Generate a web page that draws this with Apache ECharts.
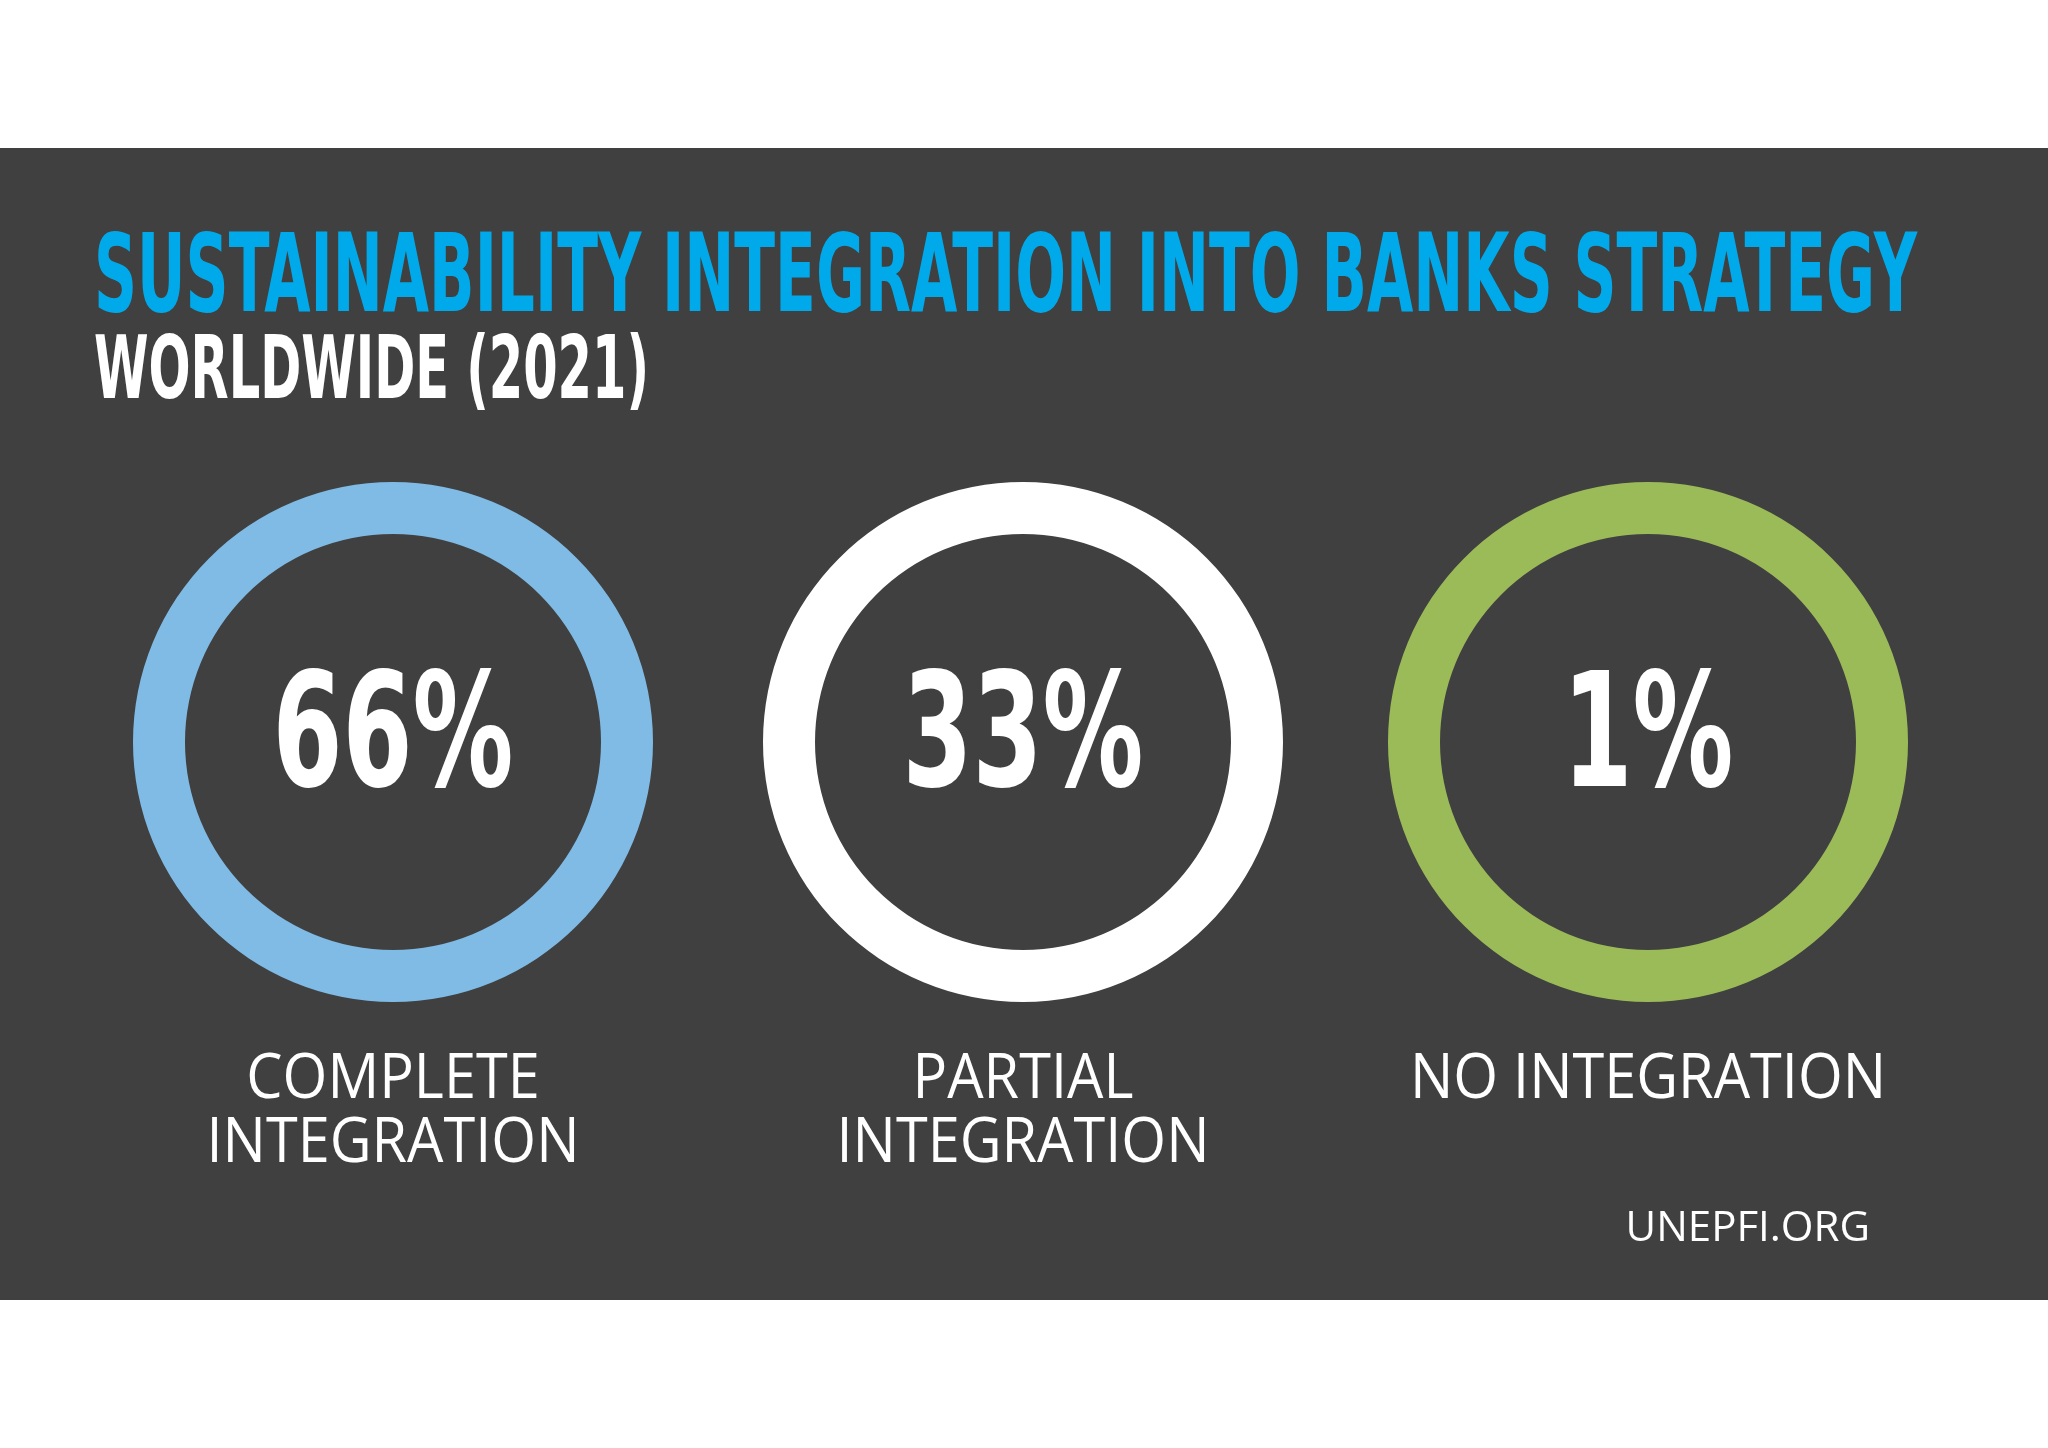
<!DOCTYPE html>
<html>
<head>
<meta charset="utf-8">
<script src="https://cdn.jsdelivr.net/npm/echarts@6/dist/echarts.min.js"></script>
<style>
  html, body { margin: 0; padding: 0; background: #fff; }
  #chart { width: 2048px; height: 1448px; }
</style>
</head>
<body>
<div id="chart"></div>
<script>
// data
var categories = ['COMPLETE\nINTEGRATION', 'PARTIAL\nINTEGRATION', 'NO INTEGRATION'];
var values = [66, 33, 1];
var ringColors = ['#7fbbe5', '#ffffff', '#9bbb59'];
var titleText = 'SUSTAINABILITY INTEGRATION INTO BANKS STRATEGY';
var subtitleText = 'WORLDWIDE (2021)';
var sourceText = 'UNEPFI.ORG';

var centersX = [393, 1023, 1648];
var centerY = 742;
var condensed = "'Liberation Sans Narrow', 'DejaVu Sans Condensed', 'Liberation Sans', sans-serif";
var plain = "'Open Sans', 'Noto Sans', sans-serif";

// measure text so condensed lettering can be squeezed to the right width
var ctx = document.createElement('canvas').getContext('2d');
function fitScale(text, weight, size, family, width) {
	ctx.font = weight + ' ' + size + 'px ' + family;
	return width / ctx.measureText(text).width;
}

var chart = echarts.init(document.getElementById('chart'));

var series = [];
var graphics = [
	{ type: 'rect', z: 0, shape: { x: 0, y: 148, width: 2048, height: 1152 }, style: { fill: '#404040' } }
];

var titleScale = fitScale(titleText, 'bold', 108, condensed, 1823);
graphics.push({
	type: 'text', z: 10, x: 94, y: 283, scaleX: titleScale,
	style: { text: titleText, fill: '#00aaea', font: 'bold 108px ' + condensed, align: 'left', verticalAlign: 'middle' }
});
var subScale = fitScale(subtitleText, 'bold', 88, condensed, 555);
graphics.push({
	type: 'text', z: 10, x: 94, y: 375, scaleX: subScale,
	style: { text: subtitleText, fill: '#ffffff', font: 'bold 88px ' + condensed, align: 'left', verticalAlign: 'middle' }
});

var pctScale = fitScale('66%', 'bold', 159, condensed, 241);
var labelScale = fitScale('INTEGRATION', 'normal', 62, plain, 373);

values.forEach(function (v, i) {
	series.push({
		type: 'pie',
		silent: true,
		center: [centersX[i], centerY],
		radius: [208, 260],
		startAngle: 90,
		label: { show: false },
		labelLine: { show: false },
		emphasis: { disabled: true },
		itemStyle: { color: ringColors[i] },
		data: [{ name: categories[i], value: v }]
	});
	graphics.push({
		type: 'text', z: 10, x: centersX[i], y: 745, scaleX: pctScale,
		style: { text: v + '%', fill: '#ffffff', font: 'bold 159px ' + condensed, align: 'center', verticalAlign: 'middle' }
	});
	graphics.push({
		type: 'text', z: 10, x: centersX[i], y: 1048, scaleX: labelScale,
		style: { text: categories[i], fill: '#ffffff', font: 'normal 62px ' + plain, align: 'center', verticalAlign: 'top', lineHeight: 64 }
	});
});

graphics.push({
	type: 'text', z: 10, x: 1870, y: 1229,
	style: { text: sourceText, fill: '#ffffff', font: 'normal 42px ' + plain, align: 'right', verticalAlign: 'middle' }
});

chart.setOption({
	backgroundColor: '#ffffff',
	animation: false,
	graphic: graphics,
	series: series
});
</script>
</body>
</html>
